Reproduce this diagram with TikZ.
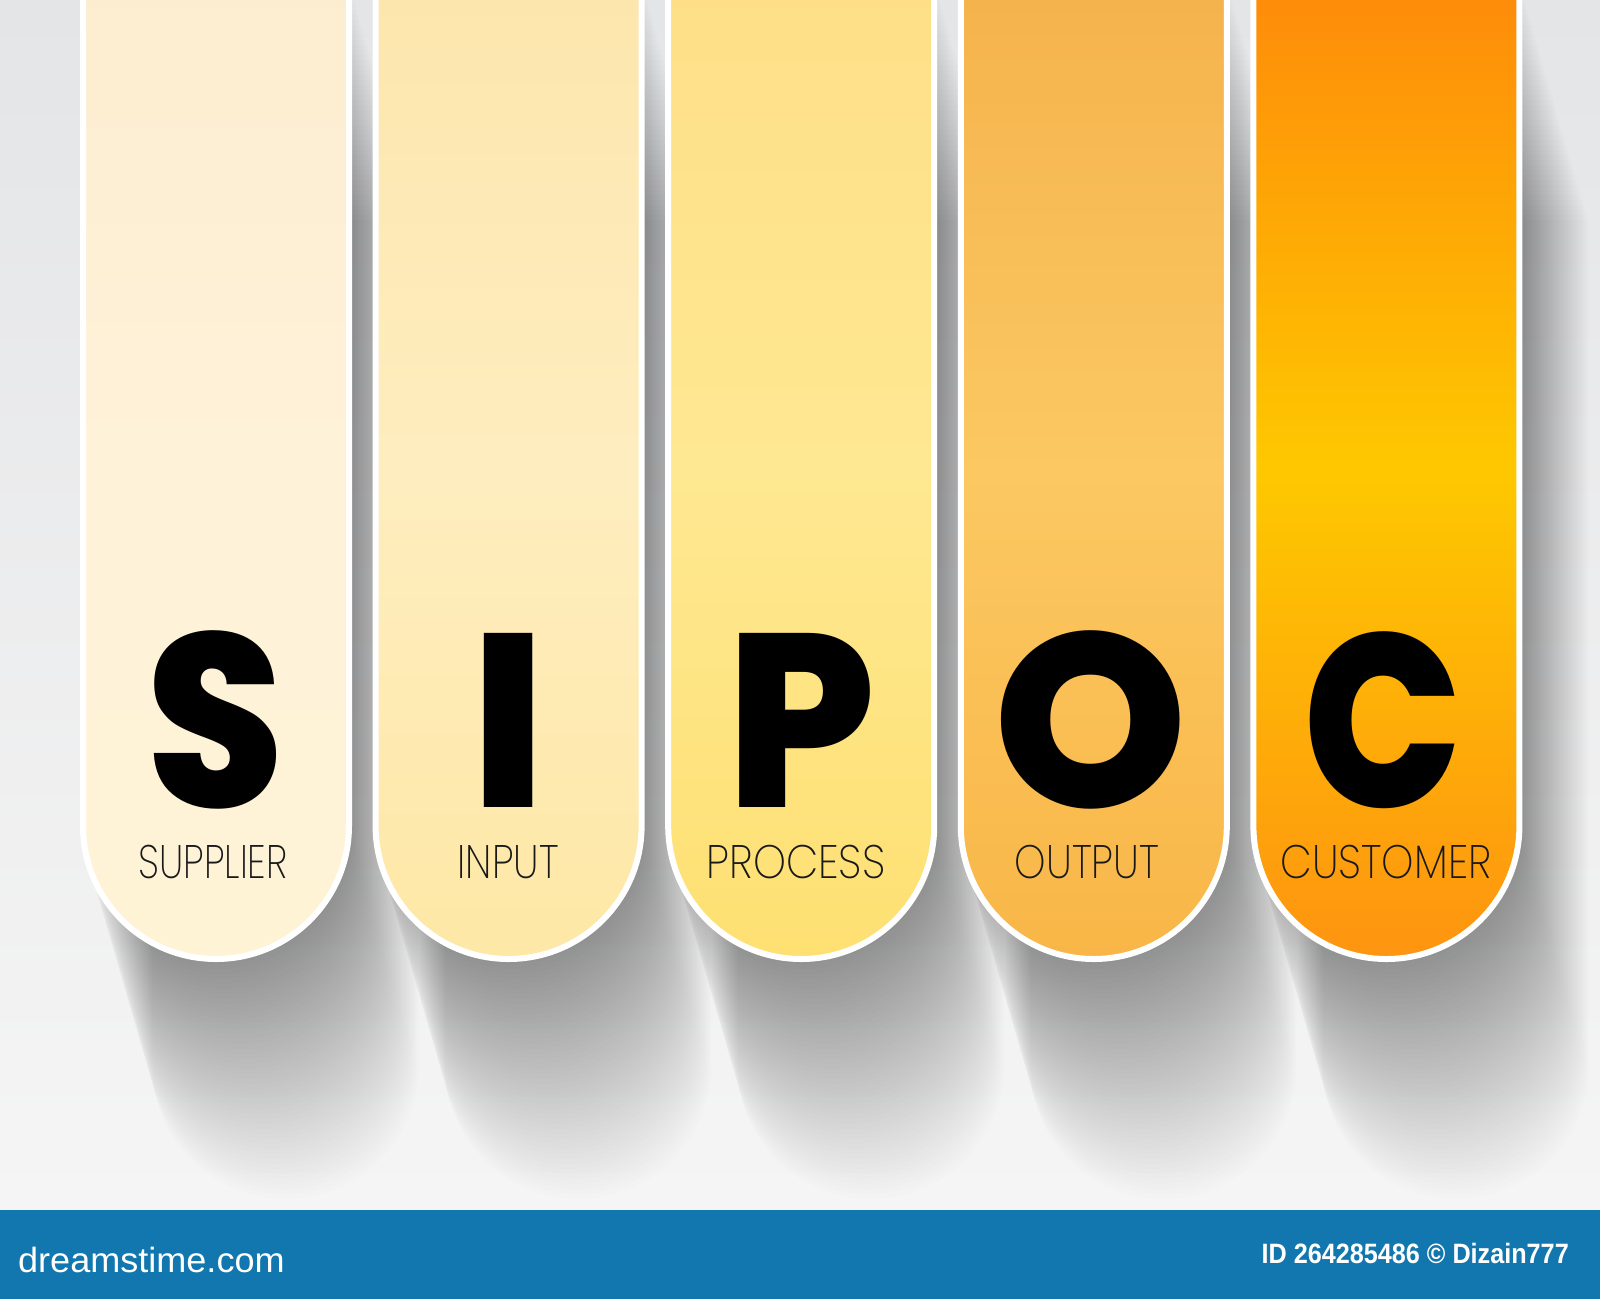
\documentclass[tikz,border=0pt]{standalone}
\usepackage{fontspec}
\newfontfamily\bigf{Poppins ExtraBold}
\newfontfamily\labf{Poppins ExtraLight}
\newfontfamily\barf{Liberation Sans}
\definecolor{bgtop}{HTML}{E4E5E7}
\definecolor{bgbot}{HTML}{F5F5F5}
\definecolor{barblue}{HTML}{1277AE}
\definecolor{aT}{HTML}{FDEDD0}\definecolor{aM}{HTML}{FEF2D9}\definecolor{aB}{HTML}{FFF3D6}
\definecolor{bT}{HTML}{FDE6AD}\definecolor{bM}{HTML}{FEEDBF}\definecolor{bB}{HTML}{FEE8A6}
\definecolor{cT}{HTML}{FEDF88}\definecolor{cM}{HTML}{FEE891}\definecolor{cB}{HTML}{FEE072}
\definecolor{dT}{HTML}{F5B24C}\definecolor{dM}{HTML}{FBC862}\definecolor{dB}{HTML}{F9B647}
\definecolor{eT}{HTML}{FE8A0A}\definecolor{eM}{HTML}{FEC800}\definecolor{eB}{HTML}{FE9410}
\begin{document}
\begin{tikzpicture}[x=1pt,y=-1pt,
  pillp/.style={insert path={(#1,-20) -- (#1,826) arc[start angle=180,end angle=0,radius=133] -- (#1+266,-20) -- cycle}},
  pillrim/.style={draw=white,line width=6},
  bigl/.style={anchor=base,inner sep=0pt,font=\bigf\fontsize{247}{247}\selectfont,text=black},
  labl/.style={anchor=base,inner sep=0pt,font=\labf\fontsize{47}{47}\selectfont,text=black!90}]
\useasboundingbox (0,0) rectangle (1600,1299);
\shade[top color=bgtop,bottom color=bgbot] (0,0) rectangle (1600,1210);
\fill[barblue] (0,1210) rectangle (1600,1299);
% shadows
\begin{scope}
\clip (0,0) rectangle (1600,1210);
\foreach \i in {0,...,4}{
  \pgfmathsetmacro\L{83+292.6*\i}
  \foreach \t in {0,5,...,240}{
    \fill[black,opacity=0.0066,shift={(0.29*\t,\t)},pillp=\L];
  }
}
\end{scope}
% pills
\shade[top color=aT,bottom color=aB,middle color=aM,pillp=83];
\draw[pillrim,pillp=83];
\shade[top color=bT,bottom color=bB,middle color=bM,pillp=375.6];
\draw[pillrim,pillp=375.6];
\shade[top color=cT,bottom color=cB,middle color=cM,pillp=668.2];
\draw[pillrim,pillp=668.2];
\shade[top color=dT,bottom color=dB,middle color=dM,pillp=960.8];
\draw[pillrim,pillp=960.8];
\shade[top color=eT,bottom color=eB,middle color=eM,pillp=1253.4];
\draw[pillrim,pillp=1253.4];
% letters
\node[bigl] (S) at (215,807) {\scalebox{0.9}[1]{S}};
\node[bigl] (I) at (509,807) {I};
\node[bigl] (P) at (801,807) {\scalebox{0.95}[1]{P}};
\node[bigl] (O) at (1091,807) {O};
\node[bigl] (C) at (1383,807) {\scalebox{0.85}[1]{C}};
% labels
\node[labl] (sup) at (213,878) {\scalebox{0.80}[1]{SUPPLIER}};
\node[labl] (inp) at (508,878) {\scalebox{0.84}[1]{INPUT}};
\node[labl] (pro) at (796,878) {\scalebox{0.89}[1]{PROCESS}};
\node[labl] (out) at (1087,878) {\scalebox{0.85}[1]{OUTPUT}};
\node[labl] (cus) at (1386,878) {\scalebox{0.875}[1]{CUSTOMER}};
% bar text
\node[anchor=base west,inner sep=0pt,text=white,font=\barf\fontsize{35}{35}\selectfont] (dt) at (18,1272) {\scalebox{1.03}[1]{dreamstime.com}};
\node[anchor=base east,inner sep=0pt,text=white,font=\barf\bfseries\fontsize{28}{28}\selectfont] (id) at (1569,1263) {\scalebox{0.9}[1]{ID 264285486 © Dizain777}};
\end{tikzpicture}
\end{document}
